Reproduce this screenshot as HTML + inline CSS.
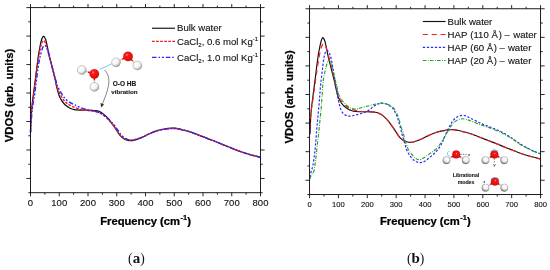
<!DOCTYPE html>
<html lang="en">
<head>
<meta charset="utf-8">
<title>VDOS of water: CaCl2 solutions and HAP slit pores</title>
<style>
html,body{margin:0;padding:0;background:#fff;}
body{width:550px;height:270px;overflow:hidden;}
svg{display:block;font-family:"Liberation Sans",sans-serif;}
.cap{font-family:"Liberation Serif",serif;}
</style>
</head>
<body>
<svg width="550" height="270" viewBox="0 0 550 270">
<defs>
<radialGradient id="gH" cx="0.36" cy="0.32" r="0.8">
<stop offset="0" stop-color="#ffffff"/><stop offset="0.5" stop-color="#f4f4f4"/><stop offset="0.78" stop-color="#c0c0c0"/><stop offset="1" stop-color="#565656"/>
</radialGradient>
<radialGradient id="gO" cx="0.38" cy="0.34" r="0.75">
<stop offset="0" stop-color="#ff9c94"/><stop offset="0.2" stop-color="#ff1a1a"/><stop offset="0.72" stop-color="#e60d0d"/><stop offset="1" stop-color="#9c0505"/>
</radialGradient>
<radialGradient id="gh" cx="0.56" cy="0.34" r="0.72">
<stop offset="0" stop-color="#ffffff"/><stop offset="0.45" stop-color="#f2f2f2"/><stop offset="0.75" stop-color="#b0b0b0"/><stop offset="1" stop-color="#3c3c3c"/>
</radialGradient>
<radialGradient id="go" cx="0.55" cy="0.4" r="0.7">
<stop offset="0" stop-color="#ffb0a8"/><stop offset="0.18" stop-color="#f81818"/><stop offset="0.75" stop-color="#e00c0c"/><stop offset="1" stop-color="#a00606"/>
</radialGradient>
</defs>
<rect x="0" y="0" width="550" height="270" fill="#ffffff"/>

<g id="panel-a">
<path d="M30.50 132.50C30.53 131.42 30.62 128.25 30.70 126.00C30.78 123.75 30.87 121.50 31.00 119.00C31.13 116.50 31.30 113.50 31.50 111.00C31.70 108.50 31.85 107.00 32.20 104.00C32.55 101.00 33.08 97.00 33.60 93.00C34.12 89.00 34.75 84.33 35.30 80.00C35.85 75.67 36.37 71.17 36.90 67.00C37.43 62.83 37.98 58.42 38.50 55.00C39.02 51.58 39.50 49.00 40.00 46.50C40.50 44.00 41.07 41.55 41.50 40.00C41.93 38.45 42.25 37.82 42.60 37.20C42.95 36.58 43.27 36.30 43.60 36.30C43.93 36.30 44.23 36.58 44.60 37.20C44.97 37.82 45.35 38.45 45.80 40.00C46.25 41.55 46.77 44.00 47.30 46.50C47.83 49.00 48.22 51.58 49.00 55.00C49.78 58.42 50.95 62.83 52.00 67.00C53.05 71.17 54.58 77.00 55.30 80.00C56.02 83.00 55.88 83.17 56.30 85.00C56.72 86.83 57.30 89.15 57.80 91.00C58.30 92.85 58.70 94.57 59.30 96.10C59.90 97.63 60.63 98.97 61.40 100.20C62.17 101.43 63.08 102.57 63.90 103.50C64.72 104.43 65.53 105.18 66.30 105.80C67.07 106.42 67.72 106.73 68.50 107.20C69.28 107.67 70.07 108.18 71.00 108.60C71.93 109.02 72.70 109.43 74.10 109.70C75.50 109.97 77.43 110.12 79.40 110.20C81.37 110.28 83.73 110.17 85.90 110.20C88.07 110.23 90.72 110.32 92.40 110.40C94.08 110.48 94.92 110.53 96.00 110.70C97.08 110.87 97.90 111.02 98.90 111.40C99.90 111.78 100.92 112.27 102.00 113.00C103.08 113.73 104.32 114.80 105.40 115.80C106.48 116.80 107.42 117.72 108.50 119.00C109.58 120.28 110.58 121.67 111.90 123.50C113.22 125.33 115.08 128.05 116.40 130.00C117.72 131.95 118.62 133.78 119.80 135.20C120.98 136.62 122.27 137.68 123.50 138.50C124.73 139.32 125.97 139.73 127.20 140.10C128.43 140.47 129.67 140.70 130.90 140.70C132.13 140.70 132.75 140.65 134.60 140.10C136.45 139.55 139.53 138.47 142.00 137.40C144.47 136.33 146.92 134.82 149.40 133.70C151.88 132.58 154.42 131.48 156.90 130.70C159.38 129.92 161.83 129.43 164.30 129.00C166.77 128.57 169.92 128.23 171.70 128.10C173.48 127.97 173.78 128.06 175.00 128.20C176.22 128.34 177.62 128.64 179.00 128.95C180.38 129.26 181.88 129.69 183.30 130.05C184.72 130.41 186.10 130.71 187.50 131.10C188.90 131.49 190.32 131.93 191.70 132.40C193.08 132.88 194.42 133.42 195.80 133.95C197.18 134.48 197.92 134.79 200.00 135.60C202.08 136.41 205.52 137.73 208.30 138.80C211.08 139.87 213.92 140.88 216.70 142.00C219.48 143.12 222.23 144.37 225.00 145.50C227.77 146.63 230.52 147.72 233.30 148.80C236.08 149.88 238.92 151.03 241.70 152.00C244.48 152.97 246.85 153.72 250.00 154.60C253.15 155.48 258.83 156.85 260.60 157.30" fill="none" stroke="#111" stroke-width="1.25" stroke-linejoin="round"/>
<path d="M30.50 132.00C30.55 130.83 30.68 127.50 30.80 125.00C30.92 122.50 31.05 119.50 31.20 117.00C31.35 114.50 31.50 112.17 31.70 110.00C31.90 107.83 32.05 106.83 32.40 104.00C32.75 101.17 33.28 97.00 33.80 93.00C34.32 89.00 34.93 84.33 35.50 80.00C36.07 75.67 36.62 71.17 37.20 67.00C37.78 62.83 38.43 58.25 39.00 55.00C39.57 51.75 40.10 49.58 40.60 47.50C41.10 45.42 41.48 43.65 42.00 42.50C42.52 41.35 43.17 40.60 43.70 40.60C44.23 40.60 44.68 41.35 45.20 42.50C45.72 43.65 46.17 45.33 46.80 47.50C47.43 49.67 48.10 52.25 49.00 55.50C49.90 58.75 51.10 62.92 52.20 67.00C53.30 71.08 54.82 76.68 55.60 80.00C56.38 83.32 56.13 84.52 56.90 86.90C57.67 89.28 59.03 92.07 60.20 94.30C61.37 96.53 62.52 98.62 63.90 100.30C65.28 101.98 66.80 103.25 68.50 104.40C70.20 105.55 71.93 106.35 74.10 107.20C76.27 108.05 79.53 109.00 81.50 109.50C83.47 110.00 84.08 109.95 85.90 110.20C87.72 110.45 90.23 110.63 92.40 111.00C94.57 111.37 96.73 111.43 98.90 112.40C101.07 113.37 103.23 114.95 105.40 116.80C107.57 118.65 110.07 121.38 111.90 123.50C113.73 125.62 115.08 127.67 116.40 129.50C117.72 131.33 118.62 133.12 119.80 134.50C120.98 135.88 122.27 136.97 123.50 137.80C124.73 138.63 125.97 139.12 127.20 139.50C128.43 139.88 129.67 140.08 130.90 140.10C132.13 140.12 132.75 140.07 134.60 139.60C136.45 139.13 139.53 138.28 142.00 137.30C144.47 136.32 146.92 134.78 149.40 133.70C151.88 132.62 154.42 131.55 156.90 130.80C159.38 130.05 161.83 129.58 164.30 129.20C166.77 128.82 169.92 128.62 171.70 128.50C173.48 128.38 173.78 128.40 175.00 128.50C176.22 128.60 177.62 128.84 179.00 129.10C180.38 129.36 181.88 129.72 183.30 130.05C184.72 130.38 186.10 130.71 187.50 131.10C188.90 131.49 190.32 131.93 191.70 132.40C193.08 132.88 194.42 133.42 195.80 133.95C197.18 134.48 197.92 134.79 200.00 135.60C202.08 136.41 205.52 137.73 208.30 138.80C211.08 139.87 213.92 140.88 216.70 142.00C219.48 143.12 222.23 144.37 225.00 145.50C227.77 146.63 230.52 147.72 233.30 148.80C236.08 149.88 238.92 151.03 241.70 152.00C244.48 152.97 246.85 153.72 250.00 154.60C253.15 155.48 258.83 156.85 260.60 157.30" fill="none" stroke="#ff1a1a" stroke-width="1.40" stroke-dasharray="2.7 1.37" stroke-linejoin="round"/>
<path d="M30.50 132.50C30.57 131.42 30.75 128.25 30.90 126.00C31.05 123.75 31.18 121.67 31.40 119.00C31.62 116.33 31.90 112.67 32.20 110.00C32.50 107.33 32.77 105.83 33.20 103.00C33.63 100.17 34.25 96.83 34.80 93.00C35.35 89.17 35.93 84.33 36.50 80.00C37.07 75.67 37.63 70.70 38.20 67.00C38.77 63.30 39.38 60.30 39.90 57.80C40.42 55.30 40.82 53.72 41.30 52.00C41.78 50.28 42.27 48.62 42.80 47.50C43.33 46.38 43.93 45.38 44.50 45.30C45.07 45.22 45.65 46.22 46.20 47.00C46.75 47.78 47.25 48.50 47.80 50.00C48.35 51.50 48.77 53.17 49.50 56.00C50.23 58.83 51.18 63.00 52.20 67.00C53.22 71.00 54.65 76.68 55.60 80.00C56.55 83.32 56.98 84.75 57.90 86.90C58.82 89.05 59.87 90.90 61.10 92.90C62.33 94.90 63.92 97.37 65.30 98.90C66.68 100.43 67.93 101.15 69.40 102.10C70.87 103.05 72.70 103.90 74.10 104.60C75.50 105.30 76.50 105.72 77.80 106.30C79.10 106.88 80.37 107.55 81.90 108.10C83.43 108.65 85.25 109.15 87.00 109.60C88.75 110.05 90.42 110.33 92.40 110.80C94.38 111.27 96.73 111.45 98.90 112.40C101.07 113.35 103.23 114.82 105.40 116.50C107.57 118.18 110.07 120.58 111.90 122.50C113.73 124.42 115.08 126.22 116.40 128.00C117.72 129.78 118.62 131.67 119.80 133.20C120.98 134.73 122.27 136.18 123.50 137.20C124.73 138.22 125.97 138.83 127.20 139.30C128.43 139.77 129.67 139.95 130.90 140.00C132.13 140.05 132.75 140.05 134.60 139.60C136.45 139.15 139.53 138.28 142.00 137.30C144.47 136.32 146.92 134.78 149.40 133.70C151.88 132.62 154.42 131.55 156.90 130.80C159.38 130.05 161.83 129.58 164.30 129.20C166.77 128.82 169.92 128.62 171.70 128.50C173.48 128.38 173.78 128.40 175.00 128.50C176.22 128.60 177.62 128.84 179.00 129.10C180.38 129.36 181.88 129.72 183.30 130.05C184.72 130.38 186.10 130.71 187.50 131.10C188.90 131.49 190.32 131.93 191.70 132.40C193.08 132.88 194.42 133.42 195.80 133.95C197.18 134.48 197.92 134.79 200.00 135.60C202.08 136.41 205.52 137.73 208.30 138.80C211.08 139.87 213.92 140.88 216.70 142.00C219.48 143.12 222.23 144.37 225.00 145.50C227.77 146.63 230.52 147.72 233.30 148.80C236.08 149.88 238.92 151.03 241.70 152.00C244.48 152.97 246.85 153.72 250.00 154.60C253.15 155.48 258.83 156.85 260.60 157.30" fill="none" stroke="#2a2aff" stroke-width="1.40" stroke-dasharray="4.6 1.9 1.5 1.9 2.0 1.9" stroke-linejoin="round"/>
<rect x="30.50" y="7.60" width="230.00" height="185.10" fill="none" stroke="#111" stroke-width="0.95"/>
<path d="M30.50 192.70v3.60M30.50 7.60v-3.60M44.88 192.70v2.00M44.88 7.60v-2.00M59.25 192.70v3.60M59.25 7.60v-3.60M73.62 192.70v2.00M73.62 7.60v-2.00M88.00 192.70v3.60M88.00 7.60v-3.60M102.38 192.70v2.00M102.38 7.60v-2.00M116.75 192.70v3.60M116.75 7.60v-3.60M131.12 192.70v2.00M131.12 7.60v-2.00M145.50 192.70v3.60M145.50 7.60v-3.60M159.88 192.70v2.00M159.88 7.60v-2.00M174.25 192.70v3.60M174.25 7.60v-3.60M188.62 192.70v2.00M188.62 7.60v-2.00M203.00 192.70v3.60M203.00 7.60v-3.60M217.38 192.70v2.00M217.38 7.60v-2.00M231.75 192.70v3.60M231.75 7.60v-3.60M246.12 192.70v2.00M246.12 7.60v-2.00M260.50 192.70v3.60M260.50 7.60v-3.60M30.50 7.60h-4.10M260.50 7.60h4.10M30.50 21.84h-2.20M260.50 21.84h2.20M30.50 36.08h-4.10M260.50 36.08h4.10M30.50 50.32h-2.20M260.50 50.32h2.20M30.50 64.55h-4.10M260.50 64.55h4.10M30.50 78.79h-2.20M260.50 78.79h2.20M30.50 93.03h-4.10M260.50 93.03h4.10M30.50 107.27h-2.20M260.50 107.27h2.20M30.50 121.51h-4.10M260.50 121.51h4.10M30.50 135.75h-2.20M260.50 135.75h2.20M30.50 149.98h-4.10M260.50 149.98h4.10M30.50 164.22h-2.20M260.50 164.22h2.20M30.50 178.46h-4.10M260.50 178.46h4.10M30.50 192.70h-2.20M260.50 192.70h2.20" stroke="#111" stroke-width="0.9" fill="none"/>
<g font-size="9.50" text-anchor="middle" fill="#111" stroke="#111" stroke-width="0.12">
<text x="30.50" y="206.20">0</text>
<text x="59.25" y="206.20">100</text>
<text x="88.00" y="206.20">200</text>
<text x="116.75" y="206.20">300</text>
<text x="145.50" y="206.20">400</text>
<text x="174.25" y="206.20">500</text>
<text x="203.00" y="206.20">600</text>
<text x="231.75" y="206.20">700</text>
<text x="260.50" y="206.20">800</text>
</g>
<text transform="translate(145.60 225.30) scale(1.092 1)" font-size="10.30" font-weight="bold" text-anchor="middle" fill="#000" stroke="#000" stroke-width="0.25">Frequency (cm<tspan font-size="6.80" dy="-5.3" dx="0.4">-1</tspan><tspan dy="5.3" dx="0.2">)</tspan></text>
<text transform="translate(12.70 95.50) rotate(-90) scale(1.097 1)" font-size="10.30" font-weight="bold" text-anchor="middle" fill="#000" stroke="#000" stroke-width="0.25">VDOS (arb. units)</text>
<g font-size="9.58" fill="#111" stroke="#111" stroke-width="0.12">
<path d="M152 28.25H175" stroke="#111" stroke-width="1.15"/>
<text x="177" y="31.2">Bulk water</text>
<path d="M152 41.35H175" stroke="#ff1a1a" stroke-width="1.4" stroke-dasharray="2.7 1.37"/>
<text x="177" y="44.7">CaCl<tspan font-size="6" dy="2.4">2</tspan><tspan dy="-2.4">, 0.6 mol Kg</tspan><tspan font-size="6" dy="-3.6">-1</tspan></text>
<path d="M152 57.4H175" stroke="#2a2aff" stroke-width="1.4" stroke-dasharray="4.6 1.9 1.5 1.9 2.0 1.9"/>
<text x="177" y="60.9">CaCl<tspan font-size="6" dy="2.4">2</tspan><tspan dy="-2.4">, 1.0 mol Kg</tspan><tspan font-size="6" dy="-3.6">-1</tspan></text>
</g>
<path d="M99.6 69.4L111.5 64" stroke="#62c4ee" stroke-width="0.9"/>
<path d="M94.30 73.90L88.05 71.95" stroke="#e01010" stroke-width="1.60"/><path d="M88.05 71.95L81.80 70.00" stroke="#cfcfcf" stroke-width="1.60"/><path d="M94.30 73.90L94.35 80.40" stroke="#e01010" stroke-width="1.60"/><path d="M94.35 80.40L94.40 86.90" stroke="#cfcfcf" stroke-width="1.60"/><circle cx="81.80" cy="70.00" r="4.40" fill="url(#gH)" stroke="#6b6b6b" stroke-width="0.35"/><circle cx="94.40" cy="86.90" r="4.40" fill="url(#gH)" stroke="#6b6b6b" stroke-width="0.35"/><circle cx="94.30" cy="73.90" r="4.70" fill="url(#gO)" stroke="#b00808" stroke-width="0.3"/>
<path d="M128.00 56.40L122.00 59.35" stroke="#e01010" stroke-width="1.60"/><path d="M122.00 59.35L116.00 62.30" stroke="#cfcfcf" stroke-width="1.60"/><path d="M128.00 56.40L132.70 60.95" stroke="#e01010" stroke-width="1.60"/><path d="M132.70 60.95L137.40 65.50" stroke="#cfcfcf" stroke-width="1.60"/><circle cx="116.00" cy="62.30" r="4.40" fill="url(#gH)" stroke="#6b6b6b" stroke-width="0.35"/><circle cx="137.40" cy="65.50" r="4.40" fill="url(#gH)" stroke="#6b6b6b" stroke-width="0.35"/><circle cx="128.00" cy="56.40" r="4.70" fill="url(#gO)" stroke="#b00808" stroke-width="0.3"/>
<path d="M104.6 70.0C107.5 72.5 109.2 77.5 108.9 82C108.6 88.5 105.3 97 101.9 105.3" fill="none" stroke="#444" stroke-width="0.65"/>
<path d="M101.0 107.6L100.5 102.9L104.1 104.4Z" fill="#333"/>
<g font-size="6.2" font-weight="bold" text-anchor="middle" fill="#1c1c1c" stroke="#1c1c1c" stroke-width="0.15"><text x="124.4" y="85.8" font-size="6.5">O-O HB</text><text x="124.4" y="93.5">vibration</text></g>
</g>
<g id="panel-b">
<path d="M310.05 134.12C310.08 133.03 310.17 129.86 310.25 127.60C310.33 125.34 310.42 123.08 310.55 120.57C310.69 118.06 310.85 115.05 311.05 112.54C311.26 110.03 311.41 108.53 311.76 105.51C312.11 102.50 312.64 98.49 313.16 94.47C313.68 90.46 314.32 85.77 314.87 81.42C315.42 77.07 315.94 72.56 316.48 68.37C317.01 64.19 317.57 59.76 318.08 56.33C318.60 52.90 319.09 50.31 319.59 47.80C320.09 45.29 320.69 42.83 321.10 41.27C321.51 39.72 321.76 39.08 322.05 38.46C322.34 37.84 322.56 37.56 322.84 37.56C323.11 37.56 323.36 37.84 323.71 38.46C324.06 39.08 324.46 39.72 324.92 41.27C325.37 42.83 325.89 45.29 326.42 47.80C326.96 50.31 327.34 52.90 328.13 56.33C328.92 59.76 330.09 64.19 331.14 68.37C332.20 72.56 333.74 78.41 334.46 81.42C335.18 84.44 335.04 84.60 335.46 86.44C335.88 88.28 336.47 90.61 336.97 92.47C337.47 94.32 337.87 96.05 338.48 97.58C339.08 99.12 339.81 100.46 340.58 101.70C341.35 102.94 342.27 104.08 343.10 105.01C343.92 105.95 344.74 106.70 345.51 107.32C346.28 107.94 346.93 108.26 347.72 108.73C348.50 109.20 349.29 109.71 350.23 110.13C351.16 110.55 351.93 110.97 353.34 111.24C354.75 111.50 356.69 111.65 358.66 111.74C360.64 111.82 363.01 111.70 365.19 111.74C367.37 111.77 370.03 111.86 371.72 111.94C373.41 112.02 374.25 112.07 375.33 112.24C376.42 112.41 377.24 112.56 378.25 112.94C379.25 113.33 380.27 113.81 381.36 114.55C382.45 115.28 383.69 116.36 384.78 117.36C385.86 118.36 386.80 119.28 387.89 120.57C388.98 121.86 389.98 123.25 391.30 125.09C392.63 126.93 394.50 129.66 395.82 131.61C397.15 133.57 398.05 135.41 399.24 136.83C400.43 138.25 401.72 139.33 402.95 140.15C404.19 140.96 405.43 141.38 406.67 141.75C407.91 142.12 409.15 142.35 410.39 142.35C411.63 142.35 412.24 142.30 414.10 141.75C415.96 141.20 419.06 140.11 421.53 139.04C424.01 137.97 426.47 136.45 428.97 135.33C431.46 134.21 434.01 133.10 436.50 132.32C438.99 131.53 441.45 131.04 443.93 130.61C446.41 130.17 449.57 129.84 451.36 129.71C453.15 129.57 453.46 129.66 454.68 129.81C455.90 129.95 457.31 130.25 458.70 130.56C460.08 130.87 461.59 131.30 463.01 131.66C464.44 132.02 465.83 132.32 467.23 132.72C468.64 133.11 470.06 133.55 471.45 134.02C472.84 134.50 474.18 135.04 475.57 135.58C476.96 136.11 477.69 136.42 479.79 137.23C481.88 138.05 485.33 139.38 488.12 140.45C490.92 141.52 493.76 142.54 496.56 143.66C499.36 144.78 502.12 146.03 504.90 147.17C507.67 148.31 510.44 149.40 513.23 150.48C516.03 151.57 518.87 152.73 521.67 153.70C524.46 154.67 526.84 155.42 530.00 156.31C533.17 157.19 538.88 158.56 540.65 159.02" fill="none" stroke="#111" stroke-width="1.15" stroke-linejoin="round"/>
<path d="M309.70 128.00C309.83 126.33 310.23 121.00 310.50 118.00C310.77 115.00 311.00 112.33 311.30 110.00C311.60 107.67 311.93 106.50 312.30 104.00C312.67 101.50 313.07 98.17 313.50 95.00C313.93 91.83 314.37 88.83 314.90 85.00C315.43 81.17 316.08 76.17 316.70 72.00C317.32 67.83 318.07 63.17 318.60 60.00C319.13 56.83 319.47 55.08 319.90 53.00C320.33 50.92 320.78 48.87 321.20 47.50C321.62 46.13 322.02 45.38 322.40 44.80C322.78 44.22 323.10 43.97 323.50 44.00C323.90 44.03 324.35 44.33 324.80 45.00C325.25 45.67 325.70 46.67 326.20 48.00C326.70 49.33 327.25 51.08 327.80 53.00C328.35 54.92 328.80 56.83 329.50 59.50C330.20 62.17 331.18 65.58 332.00 69.00C332.82 72.42 333.68 76.83 334.40 80.00C335.12 83.17 335.70 85.58 336.30 88.00C336.90 90.42 337.38 92.58 338.00 94.50C338.62 96.42 339.17 97.95 340.00 99.50C340.83 101.05 341.77 102.55 343.00 103.80C344.23 105.05 346.07 106.17 347.40 107.00C348.73 107.83 349.77 108.27 351.00 108.80C352.23 109.33 353.55 109.83 354.80 110.20C356.05 110.57 357.27 110.77 358.50 111.00C359.73 111.23 360.35 111.45 362.20 111.60C364.05 111.75 367.41 111.79 369.60 111.90C371.79 112.01 373.89 112.07 375.33 112.24C376.78 112.41 377.24 112.56 378.25 112.94C379.25 113.33 380.27 113.81 381.36 114.55C382.45 115.28 383.69 116.36 384.78 117.36C385.86 118.36 386.80 119.28 387.89 120.57C388.98 121.86 389.98 123.25 391.30 125.09C392.63 126.93 394.50 129.66 395.82 131.61C397.15 133.57 398.05 135.41 399.24 136.83C400.43 138.25 401.72 139.33 402.95 140.15C404.19 140.96 405.43 141.38 406.67 141.75C407.91 142.12 409.15 142.35 410.39 142.35C411.63 142.35 412.24 142.30 414.10 141.75C415.96 141.20 419.06 140.11 421.53 139.04C424.01 137.97 426.47 136.45 428.97 135.33C431.46 134.21 434.01 133.10 436.50 132.32C438.99 131.53 441.45 131.04 443.93 130.61C446.41 130.17 449.57 129.84 451.36 129.71C453.15 129.57 453.46 129.66 454.68 129.81C455.90 129.95 457.31 130.25 458.70 130.56C460.08 130.87 461.59 131.30 463.01 131.66C464.44 132.02 465.83 132.32 467.23 132.72C468.64 133.11 470.06 133.55 471.45 134.02C472.84 134.50 474.18 135.04 475.57 135.58C476.96 136.11 477.69 136.42 479.79 137.23C481.88 138.05 485.33 139.38 488.12 140.45C490.92 141.52 493.76 142.54 496.56 143.66C499.36 144.78 502.12 146.03 504.90 147.17C507.67 148.31 510.44 149.40 513.23 150.48C516.03 151.57 518.87 152.73 521.67 153.70C524.46 154.67 526.84 155.42 530.00 156.31C533.17 157.19 538.88 158.56 540.65 159.02" fill="none" stroke="#ff1a1a" stroke-width="1.20" stroke-dasharray="5.0 3.9" stroke-linejoin="round"/>
<path d="M309.80 177.00C310.00 176.17 310.50 173.83 311.00 172.00C311.50 170.17 312.23 168.83 312.80 166.00C313.37 163.17 313.95 158.50 314.40 155.00C314.85 151.50 315.15 148.83 315.50 145.00C315.85 141.17 316.15 136.17 316.50 132.00C316.85 127.83 317.22 124.17 317.60 120.00C317.98 115.83 318.43 111.17 318.80 107.00C319.17 102.83 319.50 98.67 319.80 95.00C320.10 91.33 320.33 87.83 320.60 85.00C320.87 82.17 321.07 80.83 321.40 78.00C321.73 75.17 322.15 71.50 322.60 68.00C323.05 64.50 323.62 59.67 324.10 57.00C324.58 54.33 324.98 53.08 325.50 52.00C326.02 50.92 326.65 50.50 327.20 50.50C327.75 50.50 328.28 51.17 328.80 52.00C329.32 52.83 329.77 53.67 330.30 55.50C330.83 57.33 331.38 59.75 332.00 63.00C332.62 66.25 333.40 71.50 334.00 75.00C334.60 78.50 335.10 81.00 335.60 84.00C336.10 87.00 336.55 90.33 337.00 93.00C337.45 95.67 337.88 98.00 338.30 100.00C338.72 102.00 339.08 103.42 339.50 105.00C339.92 106.58 340.13 108.03 340.80 109.50C341.47 110.97 342.40 112.73 343.50 113.80C344.60 114.87 346.15 115.53 347.40 115.90C348.65 116.27 349.77 116.12 351.00 116.00C352.23 115.88 353.55 115.48 354.80 115.20C356.05 114.92 357.27 114.63 358.50 114.30C359.73 113.97 360.95 113.62 362.20 113.20C363.45 112.78 364.77 112.38 366.00 111.80C367.23 111.22 368.38 110.57 369.60 109.70C370.82 108.83 372.07 107.50 373.30 106.60C374.53 105.70 375.88 104.82 377.00 104.30C378.12 103.78 379.00 103.67 380.00 103.50C381.00 103.33 381.83 103.17 383.00 103.30C384.17 103.43 385.52 103.60 387.00 104.30C388.48 105.00 390.57 106.22 391.90 107.50C393.23 108.78 394.02 110.17 395.00 112.00C395.98 113.83 396.88 115.83 397.80 118.50C398.72 121.17 399.77 125.28 400.50 128.00C401.23 130.72 401.55 132.47 402.20 134.80C402.85 137.13 403.65 139.47 404.40 142.00C405.15 144.53 405.67 147.55 406.70 150.00C407.73 152.45 409.22 154.85 410.60 156.70C411.98 158.55 413.43 160.12 415.00 161.10C416.57 162.08 418.33 162.60 420.00 162.60C421.67 162.60 423.23 162.08 425.00 161.10C426.77 160.12 428.75 158.27 430.60 156.70C432.45 155.13 434.43 153.55 436.10 151.70C437.77 149.85 439.40 147.55 440.60 145.60C441.80 143.65 442.32 142.18 443.30 140.00C444.28 137.82 445.28 135.08 446.50 132.50C447.72 129.92 449.35 126.67 450.60 124.50C451.85 122.33 452.77 120.83 454.00 119.50C455.23 118.17 456.57 117.20 458.00 116.50C459.43 115.80 461.18 115.35 462.60 115.30C464.02 115.25 465.17 115.72 466.50 116.20C467.83 116.68 468.23 117.02 470.60 118.20C472.97 119.38 477.32 121.77 480.70 123.30C484.08 124.83 487.50 126.00 490.90 127.40C494.30 128.80 497.70 129.97 501.10 131.70C504.50 133.43 507.90 135.62 511.30 137.80C514.70 139.98 518.10 142.73 521.50 144.80C524.90 146.87 528.53 148.68 531.70 150.20C534.87 151.72 539.03 153.28 540.50 153.90" fill="none" stroke="#2a2aff" stroke-width="1.20" stroke-dasharray="2.3 1.7" stroke-linejoin="round"/>
<path d="M309.80 179.00C310.08 178.33 310.85 176.22 311.50 175.00C312.15 173.78 313.15 173.20 313.70 171.70C314.25 170.20 314.42 168.45 314.80 166.00C315.18 163.55 315.58 160.50 316.00 157.00C316.42 153.50 316.85 149.00 317.30 145.00C317.75 141.00 318.25 137.17 318.70 133.00C319.15 128.83 319.58 124.17 320.00 120.00C320.42 115.83 320.87 111.83 321.20 108.00C321.53 104.17 321.73 100.83 322.00 97.00C322.27 93.17 322.50 88.33 322.80 85.00C323.10 81.67 323.33 79.67 323.80 77.00C324.27 74.33 325.02 71.42 325.60 69.00C326.18 66.58 326.75 64.00 327.30 62.50C327.85 61.00 328.35 60.00 328.90 60.00C329.45 60.00 329.95 60.83 330.60 62.50C331.25 64.17 332.10 67.42 332.80 70.00C333.50 72.58 334.15 75.42 334.80 78.00C335.45 80.58 336.12 83.00 336.70 85.50C337.28 88.00 337.75 91.02 338.30 93.00C338.85 94.98 339.35 96.15 340.00 97.40C340.65 98.65 341.42 99.48 342.20 100.50C342.98 101.52 343.83 102.58 344.70 103.50C345.57 104.42 346.35 105.22 347.40 106.00C348.45 106.78 349.77 107.70 351.00 108.20C352.23 108.70 353.55 108.93 354.80 109.00C356.05 109.07 357.27 108.85 358.50 108.60C359.73 108.35 360.35 108.00 362.20 107.50C364.05 107.00 367.13 106.22 369.60 105.60C372.07 104.98 375.02 104.23 377.00 103.80C378.98 103.37 380.00 103.00 381.50 103.00C383.00 103.00 384.27 103.25 386.00 103.80C387.73 104.35 390.32 105.10 391.90 106.30C393.48 107.50 394.40 109.15 395.50 111.00C396.60 112.85 397.67 115.07 398.50 117.40C399.33 119.73 399.63 122.10 400.50 125.00C401.37 127.90 402.85 131.93 403.70 134.80C404.55 137.67 404.83 139.77 405.60 142.20C406.37 144.63 407.28 147.37 408.30 149.40C409.32 151.43 410.48 152.92 411.70 154.40C412.92 155.88 414.40 157.40 415.60 158.30C416.80 159.20 417.52 159.88 418.90 159.80C420.28 159.72 422.15 158.78 423.90 157.80C425.65 156.82 427.55 155.20 429.40 153.90C431.25 152.60 433.33 151.48 435.00 150.00C436.67 148.52 438.10 146.67 439.40 145.00C440.70 143.33 441.58 141.95 442.80 140.00C444.02 138.05 445.22 135.80 446.70 133.30C448.18 130.80 450.40 126.88 451.70 125.00C453.00 123.12 453.37 122.90 454.50 122.00C455.63 121.10 457.08 120.13 458.50 119.60C459.92 119.07 461.67 118.82 463.00 118.80C464.33 118.78 465.23 119.15 466.50 119.50C467.77 119.85 468.23 120.02 470.60 120.90C472.97 121.78 477.32 123.55 480.70 124.80C484.08 126.05 487.50 127.12 490.90 128.40C494.30 129.68 497.70 130.87 501.10 132.50C504.50 134.13 507.90 136.08 511.30 138.20C514.70 140.32 518.10 143.17 521.50 145.20C524.90 147.23 528.53 148.95 531.70 150.40C534.87 151.85 539.03 153.32 540.50 153.90" fill="none" stroke="#1aa01a" stroke-width="1.10" stroke-dasharray="3.6 1.5 0.8 1.2" stroke-linejoin="round"/>
<rect x="309.55" y="8.75" width="231.00" height="185.80" fill="none" stroke="#111" stroke-width="0.95"/>
<path d="M309.55 194.55v3.60M309.55 8.75v-3.60M323.99 194.55v2.00M323.99 8.75v-2.00M338.43 194.55v3.60M338.43 8.75v-3.60M352.86 194.55v2.00M352.86 8.75v-2.00M367.30 194.55v3.60M367.30 8.75v-3.60M381.74 194.55v2.00M381.74 8.75v-2.00M396.17 194.55v3.60M396.17 8.75v-3.60M410.61 194.55v2.00M410.61 8.75v-2.00M425.05 194.55v3.60M425.05 8.75v-3.60M439.49 194.55v2.00M439.49 8.75v-2.00M453.92 194.55v3.60M453.92 8.75v-3.60M468.36 194.55v2.00M468.36 8.75v-2.00M482.80 194.55v3.60M482.80 8.75v-3.60M497.24 194.55v2.00M497.24 8.75v-2.00M511.67 194.55v3.60M511.67 8.75v-3.60M526.11 194.55v2.00M526.11 8.75v-2.00M540.55 194.55v3.60M540.55 8.75v-3.60M309.55 8.75h-4.10M540.55 8.75h4.10M309.55 23.04h-2.20M540.55 23.04h2.20M309.55 37.33h-4.10M540.55 37.33h4.10M309.55 51.63h-2.20M540.55 51.63h2.20M309.55 65.92h-4.10M540.55 65.92h4.10M309.55 80.21h-2.20M540.55 80.21h2.20M309.55 94.50h-4.10M540.55 94.50h4.10M309.55 108.80h-2.20M540.55 108.80h2.20M309.55 123.09h-4.10M540.55 123.09h4.10M309.55 137.38h-2.20M540.55 137.38h2.20M309.55 151.67h-4.10M540.55 151.67h4.10M309.55 165.97h-2.20M540.55 165.97h2.20M309.55 180.26h-4.10M540.55 180.26h4.10M309.55 194.55h-2.20M540.55 194.55h2.20" stroke="#111" stroke-width="0.9" fill="none"/>
<g font-size="7.60" text-anchor="middle" fill="#111" stroke="#111" stroke-width="0.12">
<text x="309.55" y="207.20">0</text>
<text x="338.43" y="207.20">100</text>
<text x="367.30" y="207.20">200</text>
<text x="396.17" y="207.20">300</text>
<text x="425.05" y="207.20">400</text>
<text x="453.92" y="207.20">500</text>
<text x="482.80" y="207.20">600</text>
<text x="511.67" y="207.20">700</text>
<text x="540.55" y="207.20">800</text>
</g>
<text transform="translate(425.40 225.30) scale(1.092 1)" font-size="10.30" font-weight="bold" text-anchor="middle" fill="#000" stroke="#000" stroke-width="0.25">Frequency (cm<tspan font-size="6.80" dy="-5.3" dx="0.4">-1</tspan><tspan dy="5.3" dx="0.2">)</tspan></text>
<text transform="translate(292.60 96.90) rotate(-90) scale(1.097 1)" font-size="10.30" font-weight="bold" text-anchor="middle" fill="#000" stroke="#000" stroke-width="0.25">VDOS (arb. units)</text>
<g font-size="9.58" fill="#111" stroke="#111" stroke-width="0.12">
<path d="M422.8 21.50H445.6" stroke="#111" stroke-width="1.15"/>
<text x="447.6" y="24.7">Bulk water</text>
<path d="M422.8 34.50H445.6" stroke="#ff1a1a" stroke-width="1.15" stroke-dasharray="5.0 3.9"/>
<text x="447.6" y="37.6">HAP <tspan dx="0.5">(110 Å</tspan><tspan dx="0.9">) –</tspan><tspan dx="0.7"> water</tspan></text>
<path d="M422.8 47.35H445.6" stroke="#2a2aff" stroke-width="1.15" stroke-dasharray="2.3 1.7"/>
<text x="447.6" y="50.8">HAP <tspan dx="0.4">(60 Å</tspan><tspan dx="0.6">) –</tspan><tspan dx="0.4"> water</tspan></text>
<path d="M422.8 60.45H445.6" stroke="#1aa01a" stroke-width="1.15" stroke-dasharray="3.6 1.5 0.8 1.2"/>
<text x="447.6" y="64.0">HAP <tspan dx="0.4">(20 Å</tspan><tspan dx="0.6">) –</tspan><tspan dx="0.4"> water</tspan></text>
</g>
<path d="M456.20 154.40L451.35 157.30" stroke="#e01010" stroke-width="1.60"/><path d="M451.35 157.30L446.50 160.20" stroke="#cfcfcf" stroke-width="1.60"/><path d="M456.20 154.40L460.95 157.30" stroke="#e01010" stroke-width="1.60"/><path d="M460.95 157.30L465.70 160.20" stroke="#cfcfcf" stroke-width="1.60"/><circle cx="446.50" cy="160.20" r="3.70" fill="url(#gh)" stroke="#6b6b6b" stroke-width="0.35"/><circle cx="465.70" cy="160.20" r="3.70" fill="url(#gh)" stroke="#6b6b6b" stroke-width="0.35"/><circle cx="456.20" cy="154.40" r="3.90" fill="url(#go)" stroke="#b00808" stroke-width="0.3"/>
<path d="M494.40 154.40L489.90 157.30" stroke="#e01010" stroke-width="1.60"/><path d="M489.90 157.30L485.40 160.20" stroke="#cfcfcf" stroke-width="1.60"/><path d="M494.40 154.40L499.30 157.30" stroke="#e01010" stroke-width="1.60"/><path d="M499.30 157.30L504.20 160.20" stroke="#cfcfcf" stroke-width="1.60"/><circle cx="485.40" cy="160.20" r="3.70" fill="url(#gh)" stroke="#6b6b6b" stroke-width="0.35"/><circle cx="504.20" cy="160.20" r="3.70" fill="url(#gh)" stroke="#6b6b6b" stroke-width="0.35"/><circle cx="494.40" cy="154.40" r="3.90" fill="url(#go)" stroke="#b00808" stroke-width="0.3"/>
<path d="M494.90 181.50L490.20 184.60" stroke="#e01010" stroke-width="1.60"/><path d="M490.20 184.60L485.50 187.70" stroke="#cfcfcf" stroke-width="1.60"/><path d="M494.90 181.50L499.60 184.60" stroke="#e01010" stroke-width="1.60"/><path d="M499.60 184.60L504.30 187.70" stroke="#cfcfcf" stroke-width="1.60"/><circle cx="485.50" cy="187.70" r="3.70" fill="url(#gh)" stroke="#6b6b6b" stroke-width="0.35"/><circle cx="504.30" cy="187.70" r="3.70" fill="url(#gh)" stroke="#6b6b6b" stroke-width="0.35"/><circle cx="494.90" cy="181.50" r="3.90" fill="url(#go)" stroke="#b00808" stroke-width="0.3"/>
<path d="M460.2 154.4H467" stroke="#333" stroke-width="0.6" stroke-dasharray="1.5 1"/>
<path d="M494.4 158.4V162.4" stroke="#333" stroke-width="0.6" stroke-dasharray="1.5 1"/>
<g font-size="4.4" font-weight="bold" fill="#3a3a3a" text-anchor="middle"><text x="468.9" y="156.3">x</text><text x="494.4" y="165.8">y</text><text x="484.4" y="182.6" font-size="4.2">z</text></g>
<g fill="none" stroke="#5cc6ee" stroke-width="0.85">
<path d="M449.3 151.6A1.7 2.2 0 1 0 449.9 155.6"/>
<path d="M490.6 151.0Q494.4 148.0 498.2 151.0"/>
<path d="M491.0 178.6Q494.9 176.2 498.8 178.6"/>
</g>
<g font-size="5.2" font-weight="bold" text-anchor="middle" fill="#1c1c1c" stroke="#1c1c1c" stroke-width="0.12"><text x="466" y="177.3">Librational</text><text x="466" y="183.8">modes</text></g>
</g>
<text class="cap" x="136.4" y="262.9" font-size="13.6" text-anchor="middle" fill="#111">(<tspan font-weight="bold" font-size="15">a</tspan>)</text>
<text class="cap" x="415.6" y="262.9" font-size="13.6" text-anchor="middle" fill="#111">(<tspan font-weight="bold" font-size="15">b</tspan>)</text>
</svg>
</body>
</html>
